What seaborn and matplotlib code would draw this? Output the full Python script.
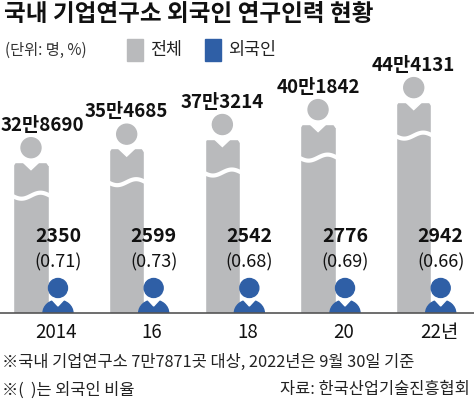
import numpy as np
import pandas as pd
import matplotlib
matplotlib.use("Agg")
import matplotlib.pyplot as plt
import seaborn as sns
from matplotlib.patches import Ellipse, Polygon

# -------------------
# DATA
# -------------------
years = ["2014", "16", "18", "20", "22년"]
total = [328690, 354685, 373214, 401842, 444131]
total_labels = ["32만8690", "35만4685", "37만3214", "40만1842", "44만4131"]
foreign = [2350, 2599, 2542, 2776, 2942]
ratio = [0.71, 0.73, 0.68, 0.69, 0.66]

GRAY = "#b9babc"
BLUE = "#2f5fa6"

sns.set_theme(style="white")
plt.rcParams["font.family"] = ["Noto Sans CJK KR", "DejaVu Sans"]

W, H = 474, 402
fig = plt.figure(figsize=(W / 100, H / 100), dpi=100)
ax = fig.add_axes([0, 1 - 314 / H, 1, (314 - 60) / H])

df = pd.DataFrame({"year": years, "total": np.array(total) / 10000})
sns.barplot(data=df, x="year", y="total", color=GRAY, width=0.37,
            saturation=1, ax=ax, zorder=2)
ax.set_xlim(-0.324, 4.63)
ax.set_ylim(3.8, 52.6)
ax.axis("off")

# px -> data unit helpers
ux = 1 / 95.75
uy = (52.6 - 3.8) / 254

for i, v in enumerate(df["total"]):
    # head
    ax.add_patch(Ellipse((i, v + 14 * uy), 20 * ux, 20 * uy, color=GRAY, zorder=2))
    # collar notch
    ax.add_patch(Polygon([(i - 9 * ux, v + 0.5 * uy), (i + 9 * ux, v + 0.5 * uy),
                          (i, v - 8 * uy)], closed=True, color="white", zorder=3))
    # rounded shoulders
    for s in (-1, 1):
        ax.add_patch(Polygon([(i + s * 18 * ux, v + 0.5 * uy), (i + s * 18 * ux, v - 4 * uy),
                              (i + s * 15 * ux, v + 0.5 * uy)], closed=True,
                             color="white", zorder=3))
    # wave break
    xs = np.linspace(i - 19 * ux, i + 19 * ux, 40)
    ys = v - 34 * uy + 3 * uy * np.sin((xs - i) / (19 * ux) * np.pi)
    ax.plot(xs, ys, color="white", lw=3, zorder=3)
    if i == 0:
        ax.text(-0.324 + ux, v + 28 * uy, total_labels[i], ha="left", va="bottom",
                fontsize=13.5, fontweight="bold", color="#111111")
    else:
        ax.text(i, v + 28 * uy, total_labels[i], ha="center", va="bottom",
                fontsize=13.5, fontweight="bold", color="#111111")

    # foreign researcher icon
    fx = i + 27 * ux
    ax.add_patch(Ellipse((fx, 3.8 + 25 * uy), 19 * ux, 19 * uy, color=BLUE, zorder=4))
    ax.add_patch(Ellipse((fx, 3.8), 30 * ux, 26 * uy, color=BLUE, zorder=4))
    ax.add_patch(Polygon([(fx - 6 * ux, 3.8 + 13.5 * uy), (fx + 6 * ux, 3.8 + 13.5 * uy),
                          (fx, 3.8 + 7 * uy)], closed=True, color="white", zorder=5))
    ax.text(fx, 3.8 + 77 * uy, f"{foreign[i]}", ha="center", va="center",
            fontsize=14, fontweight="bold", color="#111111", zorder=6)
    ax.text(fx, 3.8 + 52 * uy, f"({ratio[i]:.2f})", ha="center", va="center",
            fontsize=13, color="#111111", zorder=6)

ax.axhline(3.8, color="#555555", lw=1.2, zorder=7, clip_on=False)


def ft(px, py, s, **kw):
    fig.text(px / W, 1 - py / H, s, **kw)


ft(4, 14, "국내 기업연구소 외국인 연구인력 현황", fontsize=17, fontweight="bold",
   va="center", color="#111111")
ft(5, 50, "(단위: 명, %)", fontsize=11, va="center", color="#333333")
fig.patches.append(plt.Rectangle((127 / W, 1 - 62 / H), 16 / W, 22 / H,
                                 transform=fig.transFigure, color=GRAY))
ft(150, 50, "전체", fontsize=12.5, va="center", color="#222222")
fig.patches.append(plt.Rectangle((205 / W, 1 - 62 / H), 16 / W, 22 / H,
                                 transform=fig.transFigure, color=BLUE))
ft(228, 50, "외국인", fontsize=12.5, va="center", color="#222222")

for i, y in enumerate(years):
    ft(56 + i * 95.75, 333, y, fontsize=13.5, ha="center", va="center", color="#111111")

ft(2, 362, "※국내 기업연구소 7만7871곳 대상, 2022년은 9월 30일 기준", fontsize=11.8,
   va="center", color="#222222")
ft(2, 390, "※(  )는 외국인 비율", fontsize=11.8, va="center", color="#222222")
ft(470, 390, "자료: 한국산업기술진흥협회", fontsize=11.8, ha="right", va="center",
   color="#222222")

fig.savefig("out.png", dpi=100)
